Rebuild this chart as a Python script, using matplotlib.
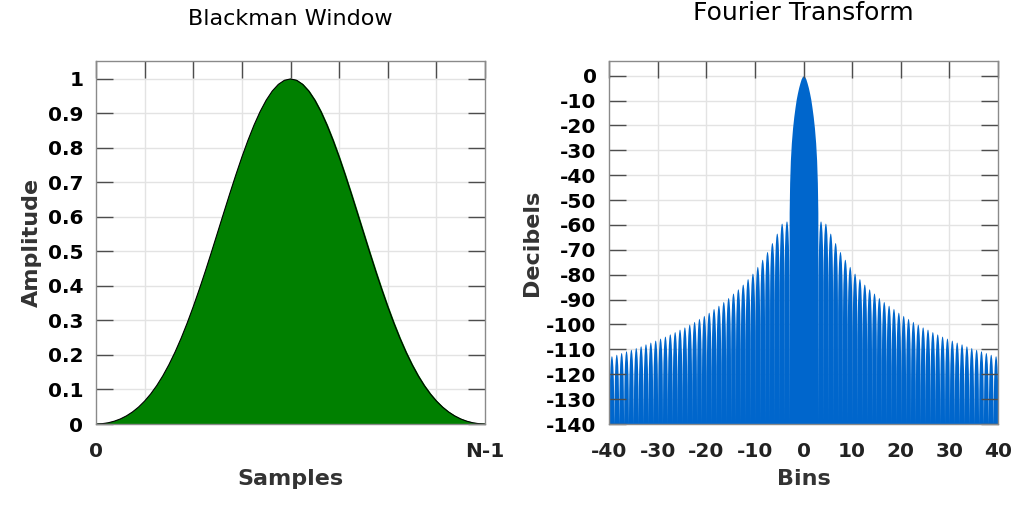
import numpy as np
import matplotlib.pyplot as plt

# ========= data =========
# Blackman window, amplitude at 65 evenly spaced positions from 0 to N-1
window_amp = [0.0, 0.0009, 0.0035, 0.0081, 0.0146, 0.0235, 0.0349, 0.0491,
              0.0665, 0.0872, 0.1116, 0.1399, 0.1721, 0.2083, 0.2485, 0.2925,
              0.3400, 0.3906, 0.4436, 0.4986, 0.5548, 0.6113, 0.6672, 0.7216,
              0.7736, 0.8221, 0.8663, 0.9054, 0.9385, 0.9650, 0.9843, 0.9961,
              1.0,
              0.9961, 0.9843, 0.9650, 0.9385, 0.9054, 0.8663, 0.8221, 0.7736,
              0.7216, 0.6672, 0.6113, 0.5548, 0.4986, 0.4436, 0.3906, 0.3400,
              0.2925, 0.2485, 0.2083, 0.1721, 0.1399, 0.1116, 0.0872, 0.0665,
              0.0491, 0.0349, 0.0235, 0.0146, 0.0081, 0.0035, 0.0009, 0.0]

# main lobe of the spectrum (positive half, mirrored for negative bins)
main_bins = [0.0, 0.25, 0.5, 0.75, 1.0, 1.25, 1.5, 1.75, 2.0, 2.25, 2.5, 2.7, 2.85, 2.95, 3.0]
main_db = [0.0, -0.4, -1.4, -3.0, -4.8, -7.0, -9.5, -12.8, -16.5, -21.0, -27.0, -34.0, -43.0, -55.0, -140.0]

# sidelobe peaks, one lobe per bin from 3..4 up to 39..40 (same on both sides)
sidelobe_peak_db = [-58.3, -59.2, -63.2, -67.0, -70.6, -73.7, -76.6, -79.3, -81.5, -83.7,
                    -85.6, -87.3, -89.1, -90.7, -92.2, -93.5, -95.0, -96.3, -97.5, -98.7,
                    -99.8, -100.9, -101.8, -102.8, -103.7, -104.6, -105.4, -106.2, -107.0, -107.7,
                    -108.5, -109.2, -109.9, -110.5, -111.2, -111.9, -112.5]
# shape of one sidelobe: drop from its peak across the bin (nulls sit on the floor)
lobe_u = [0.02, 0.05, 0.1, 0.2, 0.3, 0.4, 0.5, 0.6, 0.7, 0.8, 0.9, 0.95, 0.98]
lobe_drop = [-24, -16, -10, -4.6, -1.8, -0.4, 0.0, -0.4, -1.8, -4.6, -10, -16, -24]

FLOOR = -140.0

# ========= build spectrum curve =========
pos_x, pos_y = [], []
for i, peak in enumerate(sidelobe_peak_db):
    start = 3 + i
    pos_x.append(start)
    pos_y.append(FLOOR)
    for u, d in zip(lobe_u, lobe_drop):
        pos_x.append(start + u)
        pos_y.append(max(peak + d, FLOOR))
pos_x.append(3 + len(sidelobe_peak_db))
pos_y.append(FLOOR)

main_x = [-b for b in main_bins[::-1]] + main_bins[1:]
main_y = main_db[::-1] + main_db[1:]

spec_x = np.array([-x for x in pos_x[::-1]] + main_x + pos_x)
spec_y = np.array(pos_y[::-1] + main_y + pos_y)

# ========= style =========
plt.rcParams['font.family'] = 'DejaVu Sans'
plt.rcParams['axes.unicode_minus'] = False
GRID = '#e3e3e3'
SPINE = '#8a8a8a'
TICK = '#4d4d4d'

fig = plt.figure(figsize=(10.24, 5.12), dpi=100)
ax1 = fig.add_axes([96 / 1024, 1 - 424 / 512, 389 / 1024, 363 / 512])
ax2 = fig.add_axes([609 / 1024, 1 - 424 / 512, 389 / 1024, 363 / 512])


def style_axes(ax):
    for s in ax.spines.values():
        s.set_color(SPINE)
        s.set_linewidth(1.0)
    ax.tick_params(axis='both', which='major', direction='in', length=12, width=1,
                   color=TICK, labelsize=14.5)
    ax.tick_params(axis='y', left=True, right=True, pad=9, labelcolor='black')
    ax.tick_params(axis='x', bottom=False, top=True, labelbottom=True, pad=13,
                   labelcolor='#222222')
    for lab in ax.get_xticklabels() + ax.get_yticklabels():
        lab.set_fontweight('bold')


# ========= left: Blackman window =========
x_win = np.linspace(0, 1, len(window_amp))
ax1.fill_between(x_win, 0, window_amp, color='#008000', zorder=1)
ax1.plot(x_win, window_amp, color='black', lw=0.8, zorder=1.2)
ax1.set_xlim(0, 1)
ax1.set_ylim(0, 1.052)
xt = np.arange(0, 9) / 8
ax1.set_xticks(xt)
ax1.set_xticklabels(['0'] + [''] * 7 + ['N-1'])
yt = np.arange(0, 11) / 10
ax1.set_yticks(yt)
ax1.set_yticklabels(['0'] + ['%.1f' % v for v in yt[1:-1]] + ['1'])
for v in xt[1:-1]:
    ax1.axvline(v, color=GRID, lw=1, zorder=0.5)
for v in yt[1:]:
    ax1.axhline(v, color=GRID, lw=1, zorder=0.5)
style_axes(ax1)
ax1.set_xlabel('Samples', fontsize=16, fontweight='bold', color='#333333')
ax1.set_ylabel('Amplitude', fontsize=16, fontweight='bold', color='#333333')
ax1.xaxis.set_label_coords(0.5, -0.123)
ax1.yaxis.set_label_coords(-0.139, 0.5)
ax1.text(0.5, 1.099, 'Blackman Window', transform=ax1.transAxes, ha='center',
         va='baseline', fontsize=16, color='black')

# ========= right: Fourier transform =========
ax2.fill_between(spec_x, FLOOR, spec_y, color='#0066cc', lw=0, zorder=1)
ax2.set_xlim(-40, 40)
ax2.set_ylim(-140, 5.9)
xt2 = np.arange(-40, 41, 10)
yt2 = np.arange(-140, 1, 10)
ax2.set_xticks(xt2)
ax2.set_yticks(yt2)
for v in xt2[1:-1]:
    ax2.axvline(v, color=GRID, lw=1, zorder=0.5)
for v in yt2[1:]:
    ax2.axhline(v, color=GRID, lw=1, zorder=0.5)
style_axes(ax2)
ax2.set_xlabel('Bins', fontsize=16, fontweight='bold', color='#333333')
ax2.set_ylabel('Decibels', fontsize=16, fontweight='bold', color='#333333')
ax2.xaxis.set_label_coords(0.5, -0.123)
ax2.yaxis.set_label_coords(-0.171, 0.5)
ax2.text(0.499, 1.113, 'Fourier Transform', transform=ax2.transAxes, ha='center',
         va='baseline', fontsize=18, color='black')

fig.savefig('out.png', dpi=100)
